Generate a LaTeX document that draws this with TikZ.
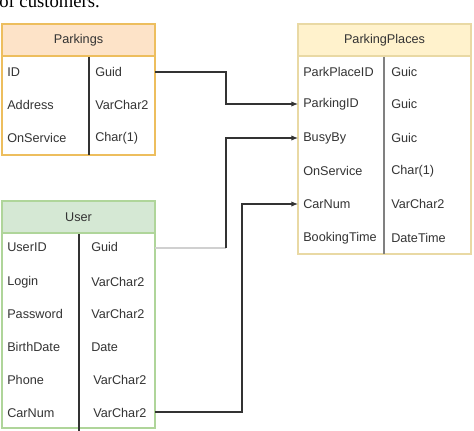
\documentclass[tikz,border=0pt]{standalone}
\usepackage{fontspec}
\setmainfont{Liberation Sans}
\newfontfamily\serifx{Liberation Serif}
\usetikzlibrary{arrows.meta}
\definecolor{txt}{HTML}{333333}
\definecolor{pkborder}{HTML}{EDBE5E}
\definecolor{pkfill}{HTML}{FDE3C8}
\definecolor{ppborder}{HTML}{E9D9A4}
\definecolor{ppfill}{HTML}{FFF2CC}
\definecolor{usborder}{HTML}{AFD59A}
\definecolor{usfill}{HTML}{D5E8D4}
\definecolor{linec}{HTML}{333333}
\definecolor{lightline}{HTML}{D0D0D0}
\tikzset{
  cell/.style={font=\fontsize{9.5}{11}\selectfont, text=txt, anchor=west, inner sep=0pt},
  head/.style={font=\fontsize{9.5}{11}\selectfont, text=txt, inner sep=0pt},
  conn/.style={draw=linec, line width=0.8pt, -{Latex[length=5pt,width=4pt]}},
}
\begin{document}
\begin{tikzpicture}[x=0.75pt,y=-0.75pt]
\useasboundingbox (0,0) rectangle (474,431);
% cut-off caption text
\node[font=\serifx\fontsize{14}{16}\selectfont, anchor=base west, inner sep=0pt] (cap) at (-1,8) {of customers.};

% Parkings
\fill[pkfill] (2,24) rectangle (155,56);
\draw[pkborder, line width=1.1pt] (2,24) rectangle (155,155);
\draw[pkborder, line width=1.1pt] (2,56) -- (155,56);
\draw[linec, line width=0.9pt] (89,57) -- (89,155);
\node[head] (pkH) at (78.5,40) {Parkings};
\node[cell] (pkID) at (7,72) {ID};
\node[cell] (pkAddr) at (7,105) {Address};
\node[cell] (pkOn) at (7,138) {OnService};
\node[cell] (pkT1) at (95,72) {Guid};
\node[cell] (pkT2) at (95,105) {VarChar2};
\node[cell] (pkT3) at (95,138) {Char(1)};

% ParkingPlaces
\fill[ppfill] (298,24) rectangle (471,56);
\draw[ppborder, line width=1.1pt] (298,24) rectangle (471,254);
\draw[ppborder, line width=1.1pt] (298,56) -- (471,56);
\draw[gray, line width=0.9pt] (384,57) -- (384,254);
\node[head] (ppH) at (384.5,40) {ParkingPlaces};
\node[cell] (pp1) at (303,72) {ParkPlaceID};
\node[cell] (pp2) at (303,104) {ParkingID};
\node[cell] (pp3) at (303,138) {BusyBy};
\node[cell] (pp4) at (303,171) {OnService};
\node[cell] (pp5) at (303,204) {CarNum};
\node[cell] (pp6) at (303,238) {BookingTime};
\node[cell] (ppT1) at (391,72) {Guic};
\node[cell] (ppT2) at (391,104) {Guic};
\node[cell] (ppT3) at (391,138) {Guic};
\node[cell] (ppT4) at (391,171) {Char(1)};
\node[cell] (ppT5) at (391,204) {VarChar2};
\node[cell] (ppT6) at (391,238) {DateTime};

% User
\fill[usfill] (2,201) rectangle (155,233);
\draw[usborder, line width=1.1pt] (2,201) rectangle (155,428);
\draw[usborder, line width=1.1pt] (2,233) -- (155,233);
\draw[linec, line width=0.9pt] (79,234) -- (79,431);
\node[head] (usH) at (78.5,217) {User};
\node[cell] (us1) at (7,247) {UserID};
\node[cell] (us2) at (7,282) {Login};
\node[cell] (us3) at (7,314) {Password};
\node[cell] (us4) at (7,347) {BirthDate};
\node[cell] (us5) at (7,380) {Phone};
\node[cell] (us6) at (7,413) {CarNum};
\node[cell] (usT1) at (91,247) {Guid};
\node[cell] (usT2) at (91,282) {VarChar2};
\node[cell] (usT3) at (91,314) {VarChar2};
\node[cell] (usT4) at (91,347) {Date};
\node[cell] (usT5) at (93,380) {VarChar2};
\node[cell] (usT6) at (93,413) {VarChar2};

% connector anchors
\coordinate (pkGuidR) at (155,72);
\coordinate (bendA) at (226,72);
\coordinate (ppParkL) at (298,104);
\coordinate (usIDR) at (155,248);
\coordinate (bendB) at (226,248);
\coordinate (ppBusyL) at (298,138);
\coordinate (usCarR) at (155,412);
\coordinate (bendC) at (242,412);
\coordinate (ppCarL) at (298,204);

\draw[conn] (pkGuidR) -- (bendA) |- (ppParkL);
\draw[lightline, line width=0.8pt] (usIDR) -- (bendB);
\draw[conn] (bendB) |- (ppBusyL);
\draw[conn] (usCarR) -- (bendC) |- (ppCarL);
\end{tikzpicture}
\end{document}
